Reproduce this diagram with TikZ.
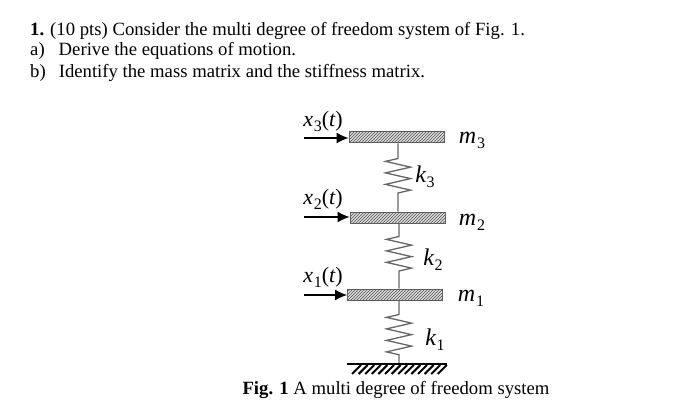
\documentclass[tikz,border=0pt]{standalone}
\usepackage{fontspec}
\setmainfont{Liberation Serif}
\usetikzlibrary{arrows.meta,patterns,decorations.pathmorphing}
\newfontface\symit{Liberation Serif Italic}
\newcommand{\symsub}[2]{{\symit #1}\hspace{0.8pt}\raisebox{-5pt}{\fontsize{16}{16}\selectfont #2}}
\tikzset{
  txt/.style={anchor=west,inner sep=0pt,font=\fontsize{18.7}{20}\selectfont},
  sym/.style={inner sep=0pt,font=\fontsize{24}{26}\selectfont},
  massbox/.style={draw=black!60,line width=1pt,fill=black!12,postaction={pattern=north east lines,pattern color=black!70},minimum width=95pt,minimum height=11pt,inner sep=0pt},
  springline/.style 2 args={draw=black!60,line width=1.3pt,decorate,decoration={zigzag,mirror,amplitude=12.5pt,segment length=11.5pt,pre length=#1,post length=#2}},
  force/.style={-{Latex[length=12pt,width=11pt]},line width=1.2pt}
}
\begin{document}
\begin{tikzpicture}[x=1pt,y=-1pt]
  \useasboundingbox (0,0) rectangle (700,414);
  \node[txt] (line1) at (30,31) {\textbf{1.}\hspace{6pt}(10 pts) Consider the multi degree of freedom system of Fig. 1.};
  \node[txt] (line2) at (30,51) {a)\hspace{14pt}Derive the equations of motion.};
  \node[txt] (line3) at (30,73) {b)\hspace{13pt}Identify the mass matrix and the stiffness matrix.};
  % masses
  \node[massbox] (m3box) at (396.5,137.5) {};
  \node[massbox] (m2box) at (397.5,217.5) {};
  \node[massbox] (m1box) at (395,294.5) {};
  \coordinate (ground) at (399,364);
  \coordinate (x3tail) at (304,138);
  \coordinate (x2tail) at (304,217);
  \coordinate (x1tail) at (304,295);
  % springs
  \draw[springline={15pt}{14pt}] (m3box.south -| 398,0) -- (m2box.north -| 398,0);
  \draw[springline={13pt}{12pt}] (m2box.south -| 399,0) -- (m1box.north -| 399,0);
  \draw[springline={14pt}{8pt}] (m1box.south -| 399,0) -- (ground);
  % forces
  \draw[force] (x3tail) -- (m3box.west |- x3tail);
  \draw[force] (x2tail) -- (m2box.west |- x2tail);
  \draw[force] (x1tail) -- (m1box.west |- x1tail);
  % ground
  \draw[line width=1.2pt] (347,364) -- (447,364);
  \foreach \i in {0,...,13}
    \draw[line width=2pt] (352+6.6*\i,374) -- (361+6.6*\i,365);
  % labels
  \node[sym,font=\fontsize{22}{24}\selectfont] (x3lab) at (323,121) {\symsub{x}{3}({\symit t})};
  \node[sym,font=\fontsize{22}{24}\selectfont] (x2lab) at (323,199) {\symsub{x}{2}({\symit t})};
  \node[sym,font=\fontsize{22}{24}\selectfont] (x1lab) at (323,277) {\symsub{x}{1}({\symit t})};
  \node[sym] (m3lab) at (472,140) {\symsub{m}{3}};
  \node[sym] (m2lab) at (472,222) {\symsub{m}{2}};
  \node[sym] (m1lab) at (471,298) {\symsub{m}{1}};
  \node[sym] (k3lab) at (425,177) {\symsub{k}{3}};
  \node[sym] (k2lab) at (433,260) {\symsub{k}{2}};
  \node[sym] (k1lab) at (435,340) {\symsub{k}{1}};
  \node[txt,anchor=center] (caption) at (396,390) {\textbf{Fig. 1} A multi degree of freedom system};
\end{tikzpicture}
\end{document}
